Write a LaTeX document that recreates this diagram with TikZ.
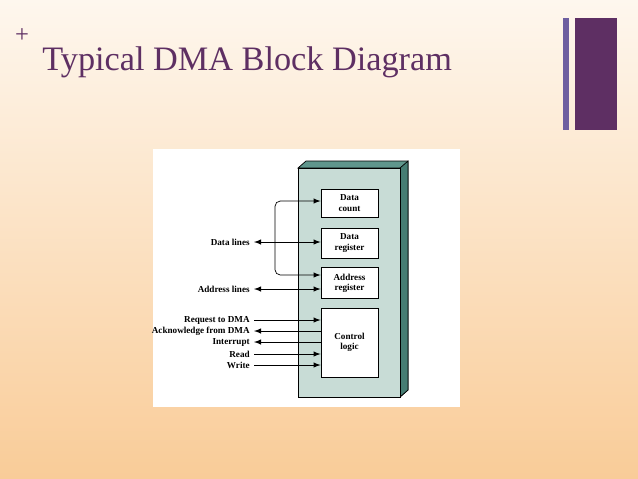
\documentclass[tikz,border=0pt]{standalone}
\usepackage{fontspec}
\setmainfont{Liberation Serif}
\begin{document}
\begin{tikzpicture}[x=0.02cm,y=-0.02cm,
 reg/.style={draw,fill=white,line width=0.5pt,align=center,font=\fontsize{5.2}{5.8}\selectfont\bfseries},
 lab/.style={anchor=east,inner sep=0pt,font=\fontsize{5.2}{6}\selectfont\bfseries},
 ar/.style={-latex,line width=0.4pt},
 dar/.style={latex-latex,line width=0.4pt}]
\definecolor{ttl}{HTML}{5E2F63}
\useasboundingbox (0,0) rectangle (638,478);
\shade[top color={rgb,255:red,254;green,247;blue,238},bottom color={rgb,255:red,249;green,204;blue,152}] (0,0) rectangle (638,478);
\fill[fill={rgb,255:red,110;green,95;blue,160}] (563,18) rectangle (569,130);
\fill[ttl] (575,18) rectangle (617,130);
\node[text=ttl,font=\fontsize{14}{14}\selectfont] (plus) at (22,36) {+};
\node[text=ttl,anchor=base west,inner sep=0pt,font=\fontsize{19.5}{20}\selectfont] (title) at (42,70) {Typical DMA Block Diagram};
\fill[white] (153,149) rectangle (460,407);
% panel
\fill[fill={rgb,255:red,95;green,150;blue,140},draw=black,line width=0.4pt] (298,168)--(306,161)--(408,161)--(408,390)--(400,397)--(400,168)--cycle;
\fill[fill={rgb,255:red,70;green,125;blue,115},draw=black,line width=0.4pt] (400,168)--(408,161)--(408,390)--(400,397)--cycle;
\draw[fill={rgb,255:red,200;green,220;blue,214},line width=0.5pt] (298,168) rectangle (400,397);
\node[reg,minimum width=57*0.02cm,minimum height=28*0.02cm] (dc) at (349.5,203) {Data\\count};
\node[reg,minimum width=57*0.02cm,minimum height=28*0.02cm] (dr) at (349.5,243) {Data\\register};
\node[reg,minimum width=57*0.02cm,minimum height=28*0.02cm] (arg) at (349.5,283) {Address\\register};
\node[reg,minimum width=57*0.02cm,minimum height=69*0.02cm] (cl) at (349.5,342.5) {Control\\logic};
\node[lab] (dl) at (250,242) {Data lines};
\node[lab] (al) at (250,289) {Address lines};
\node[lab] (rq) at (250,320) {Request to DMA};
\node[lab] (ak) at (250,331) {Acknowledge from DMA};
\node[lab] (ir) at (250,342) {Interrupt};
\node[lab] (rd) at (250,354) {Read};
\node[lab] (wr) at (250,365) {Write};
\draw[dar] ([xshift=4*0.02cm]dl.east) -- (dr.west|-dl.east);
\draw[dar] ([xshift=4*0.02cm]al.east) -- (arg.west|-al.east);
\draw[ar] ([xshift=4*0.02cm]rq.east) -- (cl.west|-rq.east);
\draw[ar] (cl.west|-ak.east) -- ([xshift=4*0.02cm]ak.east);
\draw[ar] (cl.west|-ir.east) -- ([xshift=4*0.02cm]ir.east);
\draw[ar] ([xshift=4*0.02cm]rd.east) -- (cl.west|-rd.east);
\draw[ar] ([xshift=4*0.02cm]wr.east) -- (cl.west|-wr.east);
\coordinate (b1) at (275,201);
\coordinate (b2) at (275,275);
\draw[dar,rounded corners=3pt] (dc.west|-b1) -- (b1) -- (b2) -- (arg.west|-b2);
\end{tikzpicture}
\end{document}
